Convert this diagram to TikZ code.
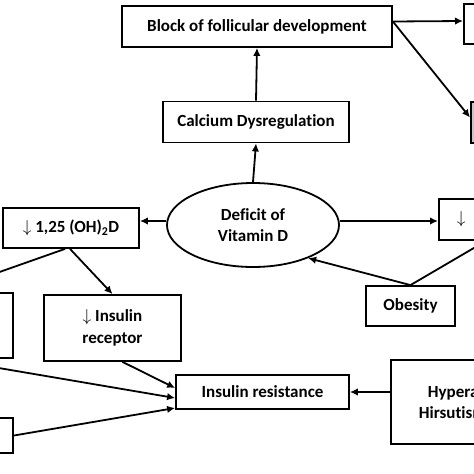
\documentclass[tikz,border=0pt]{standalone}
\usepackage{fontspec}
\setmainfont[Ligatures=NoCommon]{Carlito}
\usepackage{tikz}
\usetikzlibrary{shapes.geometric, arrows.meta}

\tikzset{
    box/.style={draw, line width=1.8pt, fill=white, inner sep=2pt, align=center, font=\bfseries\fontsize{17}{21.5}\selectfont},
    arr/.style={-{Latex[length=8pt, width=7.5pt]}, line width=1.8pt}
}

\begin{document}
\begin{tikzpicture}[x=1pt, y=-1pt]
    % Fix the canvas and cut off what lies outside it
    \useasboundingbox (0,0) rectangle (474,474);
    \clip (0,0) rectangle (474,474);

    % Central deficit
    \node[ellipse, box, minimum width=172pt, minimum height=84pt] (VitD) at (253,225) {Deficit of\\Vitamin D};

    % Upper chain
    \node[box, minimum width=186pt, minimum height=41pt] (Calcium) at (256,122) {Calcium Dysregulation};
    \node[box, minimum width=270pt, minimum height=41pt] (Block) at (257,26.5) {Block of follicular development};
    \node[box, anchor=west, minimum width=100pt, minimum height=40pt] (TopR) at (463,24) {};
    \node[box, anchor=west, fill=gray!45, minimum width=100pt, minimum height=41pt] (MidR) at (470,122.5) {};

    % Left side
    \node[box, minimum width=136pt, minimum height=40pt] (OHD) at (71,228) {$\downarrow$ 1,25 (OH)\textsubscript{2}D};
    \node[box, minimum width=137pt, minimum height=66pt] (Receptor) at (112.5,328) {$\downarrow$ Insulin\\receptor};
    \node[box, anchor=east, minimum width=80pt, minimum height=65pt] (LeftUp) at (14,325.5) {};
    \node[box, anchor=east, minimum width=80pt, minimum height=35pt] (LeftLow) at (14,435.5) {};
    \coordinate (OffA) at (-60,293);
    \coordinate (OffB) at (-60,358);

    % Right side
    \node[box, anchor=west, text width=60pt, inner xsep=18pt, align=left, minimum height=41pt] (LowR) at (438,219.5) {$\downarrow$};
    \node[box, minimum width=89pt, minimum height=40pt] (Obesity) at (410.5,306) {Obesity};
    \node[box, anchor=west, text width=150pt, inner xsep=28pt, align=left, minimum height=84pt] (Hyper) at (390,402) {\hspace*{9pt}Hyperandrogenism\\Hirsutism\\[14pt]};

    % Bottom
    \node[box, minimum width=173pt, minimum height=34pt] (Resist) at (262.5,392) {Insulin resistance};

    % Connectors
    \draw[arr] (VitD.north) -- (Calcium.south);
    \draw[arr] (Calcium.north) -- (Block.south);
    \draw[arr] ([yshift=5pt]Block.east) -- ([yshift=3pt]TopR.west);
    \draw[arr] ([yshift=5pt]Block.east) -- ([yshift=5pt]MidR.west);
    \draw[arr] ([yshift=4pt]VitD.west) -- ([yshift=4pt]VitD.west -| OHD.east);
    \draw[arr] ([yshift=4pt]VitD.east) -- ([yshift=4pt]VitD.east -| LowR.west);
    \draw[arr] ([xshift=-1pt]OHD.south) -- (Receptor.north);
    \draw[arr] ([xshift=-6pt]OHD.south) -- (OffA);
    \draw[arr] (Obesity.north) -- (VitD.-31);
    \draw[arr] (Obesity.north) -- ([xshift=48pt]LowR.south west);
    \draw[arr] ([xshift=10pt]Receptor.south) -- ([yshift=4pt]Resist.west);
    \draw[arr] (OffB) -- ([yshift=-6pt]Resist.west);
    \draw[arr] (LeftLow.east) -- ([yshift=-16pt]Resist.west);
    \draw[arr] (Hyper.west |- Resist.east) -- (Resist.east);
\end{tikzpicture}
\end{document}
